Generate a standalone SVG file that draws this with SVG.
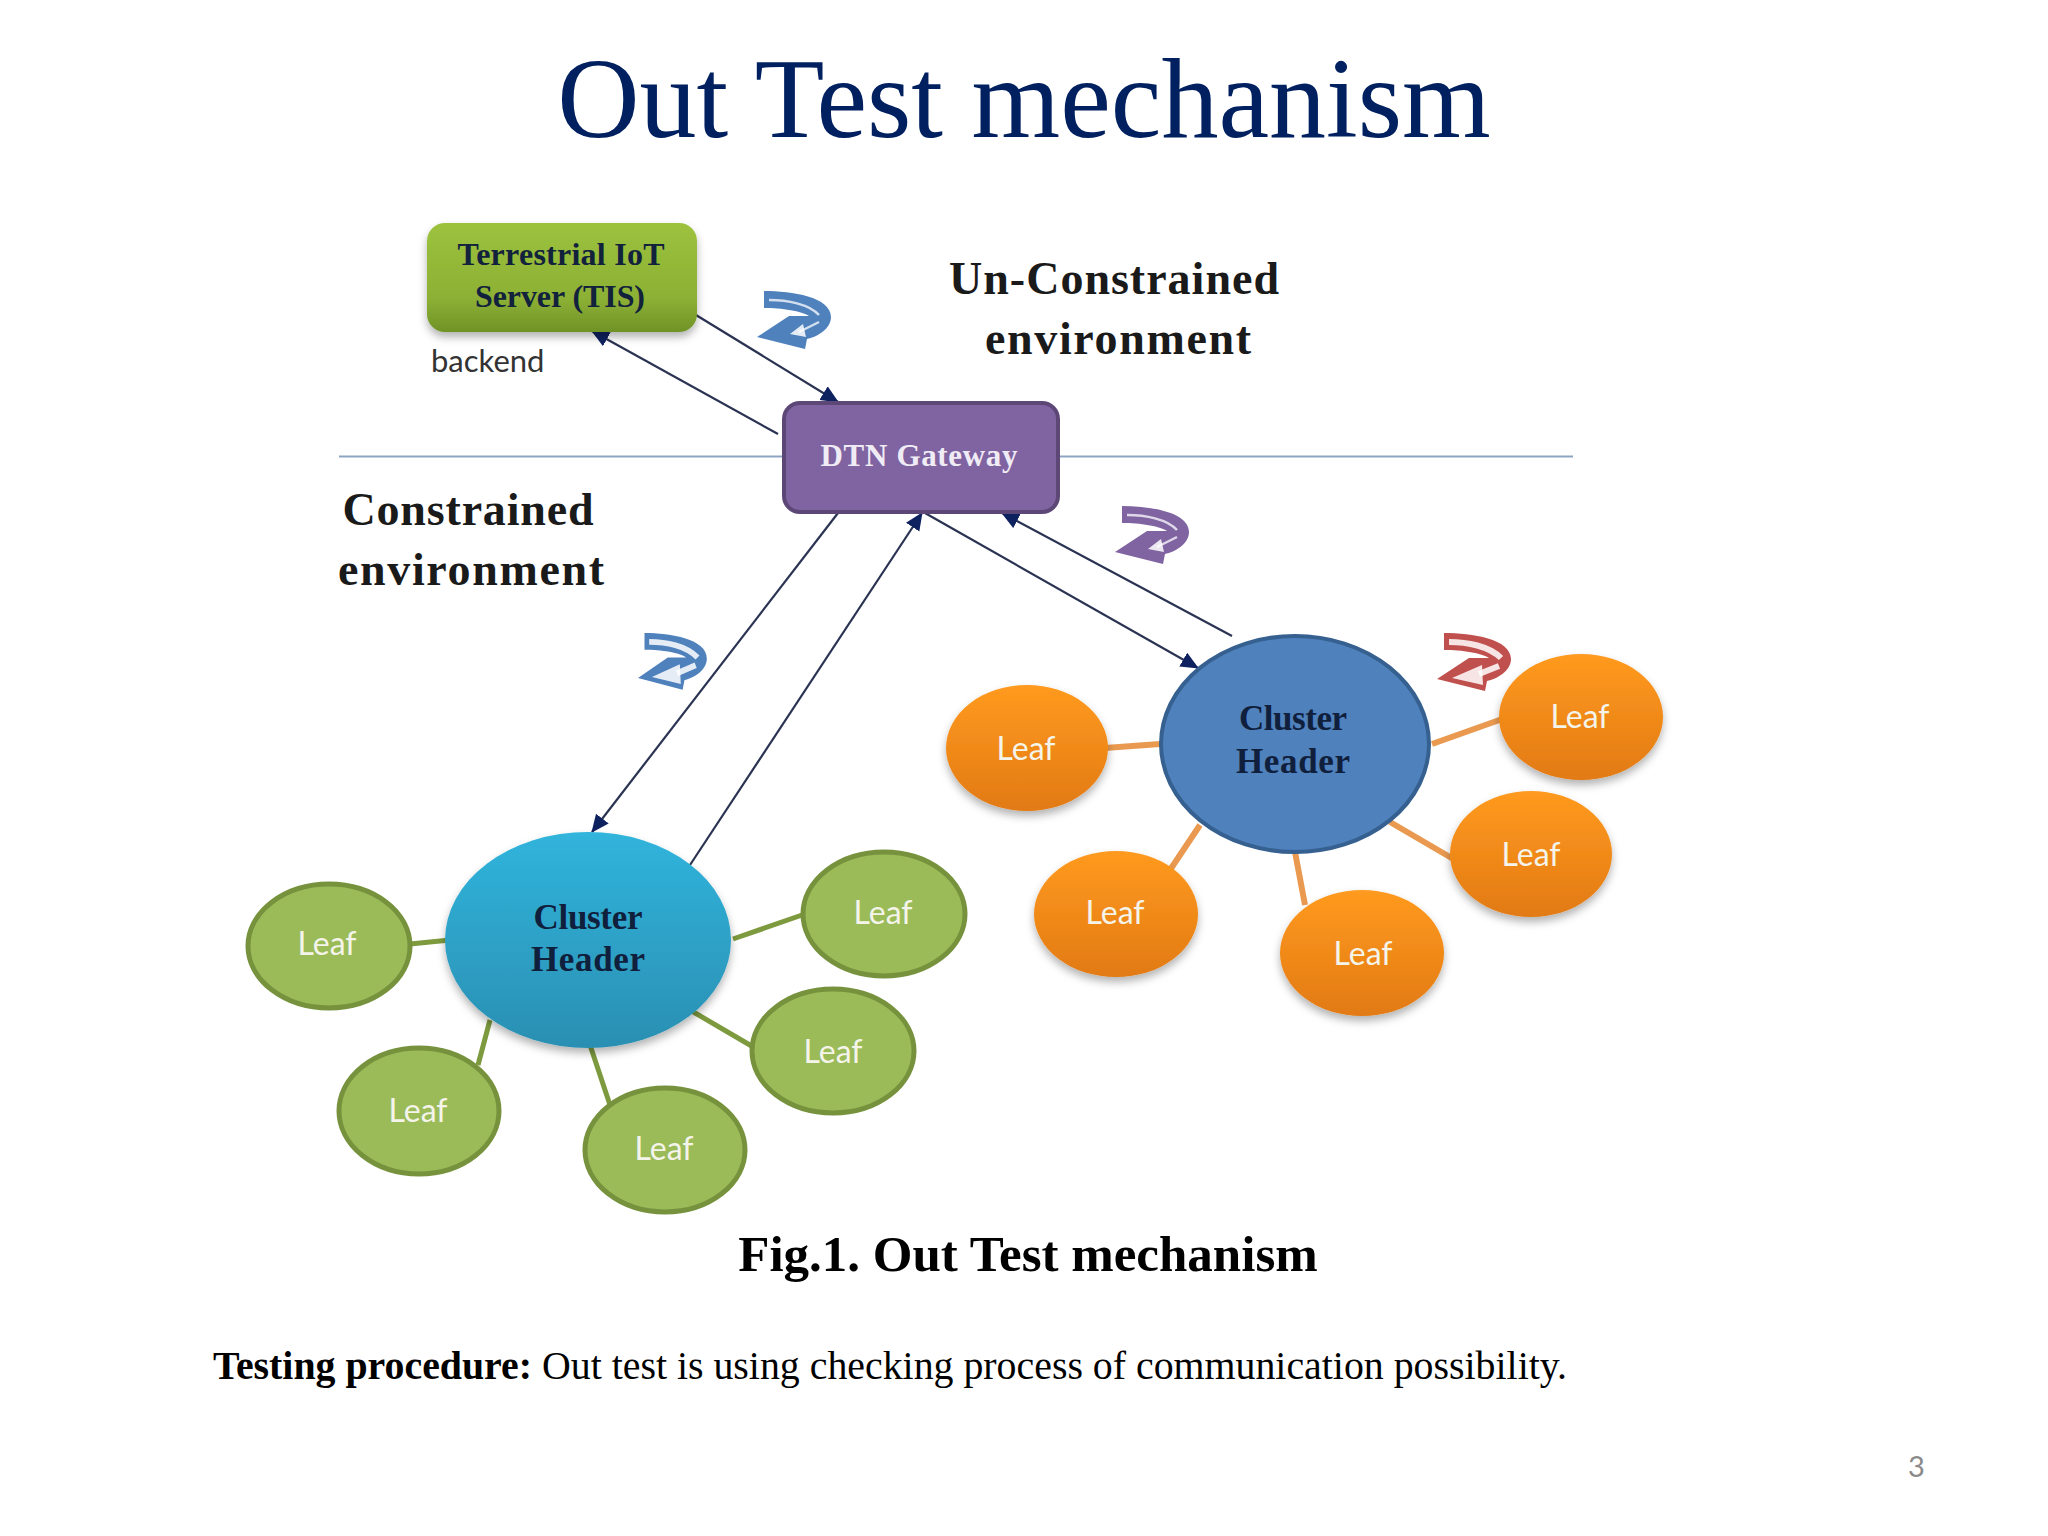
<svg xmlns="http://www.w3.org/2000/svg" width="2048" height="1536" viewBox="0 0 2048 1536">
<style>
.serif{font-family:"Liberation Serif","Times New Roman",serif}
.lb{font-family:"Liberation Serif",serif;font-weight:bold;text-anchor:middle}
.big{font-size:46px;fill:#1a1a1a}
.small{font-size:32px;fill:#12223c}
.ch{font-size:35px;fill:#10203c}
.leaf{font-family:Lato,"Open Sans",sans-serif;font-size:32px;fill:#f4f4ea;text-anchor:middle}
.g{fill:#9bbb59;stroke:#76923c;stroke-width:5}
.o{fill:url(#orange);filter:url(#sh)}
.ge{stroke:#7d9a3e;stroke-width:5;fill:none}
.oe{stroke:#ea9a50;stroke-width:6;fill:none}
.a{stroke:#2a3352;stroke-width:2.2;fill:none;marker-end:url(#arr)}
.hl{fill:none;stroke:#fff;stroke-opacity:.75;stroke-width:2.5}
.hw{fill:none;stroke:#fff;stroke-opacity:.85;stroke-width:6}
.hf{fill:#fff;fill-opacity:.85}
</style>
<defs>
<linearGradient id="orange" x1="0" y1="0" x2="0" y2="1"><stop offset="0" stop-color="#ff9a20"/><stop offset="1" stop-color="#e27a12"/></linearGradient>
<linearGradient id="green" x1="0" y1="0" x2="0" y2="1"><stop offset="0" stop-color="#9cc23e"/><stop offset=".7" stop-color="#8cb034"/><stop offset="1" stop-color="#6f9227"/></linearGradient>
<linearGradient id="teal" x1="0" y1="0" x2="0" y2="1"><stop offset="0" stop-color="#30b4dc"/><stop offset="1" stop-color="#2b8fb2"/></linearGradient>
<filter id="sh" x="-20%" y="-20%" width="140%" height="140%"><feDropShadow dx="0" dy="5" stdDeviation="4" flood-color="#000" flood-opacity=".3"/></filter>
<marker id="arr" markerUnits="userSpaceOnUse" markerWidth="20" markerHeight="18" refX="17" refY="8" orient="auto"><path d="M0 0L18 8L0 16Z" fill="#0e2260"/></marker>
<path id="curve" d="M7 0C35 0 74 6 74 26C74 38 60 46 50 48L48 58L0 46L32 25L52 25C45 20 25 17 7 17Z"/>
<g id="hi"><path class="hl" d="M12 9C30 9 52 13 62 24"/><path class="hl" d="M62 31L42 41"/><path class="hf" d="M46 33L33 43L49 46Z"/></g>
<g id="hi2"><path class="hw" d="M12 9C30 9 52 13 64 25"/><path class="hw" d="M62 33L42 41"/><path class="hf" d="M45 32L15 45L46 52Z"/></g>
</defs>
<rect width="2048" height="1536" fill="#fff"/>
<text class="serif" x="1024" y="137" font-size="114" fill="#002060" text-anchor="middle">Out Test mechanism</text>

<path d="M339 456.500H1573" stroke="#8da5c2" stroke-width="2" fill="none"/>

<g id="connectors">
<path class="a" d="M696 315L838 402"/>
<path class="a" d="M778 434L592 331"/>
<path class="a" d="M838 513L592 832"/>
<path class="a" d="M690 865L922 513"/>
<path class="a" d="M925 513L1198 668"/>
<path class="a" d="M1232 636L1002 513"/>
<path class="ge" d="M410 944L450 940M478 1065L490 1020M610 1105L590 1045M755 1048L690 1010M805 914L733 939"/>
<path class="oe" d="M1105 748L1160 744M1432 744L1505 718M1390 822L1455 860M1295 852L1305 905M1170 870L1200 825"/>
</g>

<g id="arrow-blue-top" transform="translate(757 291)"><use href="#curve" fill="#4f81bd"/><use href="#hi"/></g>
<g id="arrow-purple" transform="translate(1115 506)"><use href="#curve" fill="#8064a2"/><use href="#hi"/></g>
<g id="arrow-red" transform="translate(1437 633)"><use href="#curve" fill="#c0504d"/><use href="#hi2"/></g>
<g id="arrow-blue-left" transform="translate(638 633) scale(.93 .98)"><use href="#curve" fill="#4f81bd"/><use href="#hi2"/></g>

<g id="tis"><rect x="427" y="223" width="270" height="109" rx="18" fill="url(#green)" filter="url(#sh)"/>
<text class="lb small" x="561" y="265" fill="#11280c" textLength="207">Terrestrial IoT</text><text class="lb small" x="560" y="307" textLength="170">Server (TIS)</text></g>
<text font-family="Lato,sans-serif" font-size="31" fill="#333" x="431" y="372">backend</text>

<g id="dtn"><rect x="784" y="403" width="274" height="109" rx="16" fill="#8064a2" stroke="#5c4777" stroke-width="4"/>
<text class="lb" font-size="31" x="919" y="466" fill="#f0ecf5" textLength="197">DTN Gateway</text></g>

<text class="lb big" x="1114" y="294" textLength="330">Un-Constrained</text>
<text class="lb big" x="1118" y="354" textLength="266">environment</text>
<text class="lb big" x="468" y="525" textLength="251">Constrained</text>
<text class="lb big" x="471" y="585" textLength="266">environment</text>

<g id="cluster-left"><ellipse cx="588" cy="940" rx="143" ry="108" fill="url(#teal)" filter="url(#sh)"/>
<text class="lb ch" x="588" y="929" textLength="109">Cluster</text><text class="lb ch" x="588" y="971" textLength="114">Header</text></g>
<g id="cluster-right"><ellipse cx="1295" cy="744" rx="134" ry="108" fill="#4f81bd" stroke="#35608f" stroke-width="4"/>
<text class="lb ch" x="1293" y="730" textLength="108">Cluster</text><text class="lb ch" x="1293" y="773" textLength="114">Header</text></g>

<g id="leaf-g1"><ellipse class="g" cx="329" cy="946" rx="81" ry="62"/><text class="leaf" x="327" y="955">Leaf</text></g>
<g id="leaf-g2"><ellipse class="g" cx="419" cy="1111" rx="80" ry="63"/><text class="leaf" x="418" y="1122">Leaf</text></g>
<g id="leaf-g3"><ellipse class="g" cx="665" cy="1150" rx="80" ry="62"/><text class="leaf" x="664" y="1160">Leaf</text></g>
<g id="leaf-g4"><ellipse class="g" cx="833" cy="1051" rx="81" ry="62"/><text class="leaf" x="833" y="1063">Leaf</text></g>
<g id="leaf-g5"><ellipse class="g" cx="884" cy="914" rx="81" ry="62"/><text class="leaf" x="883" y="924">Leaf</text></g>

<g id="leaf-o1"><ellipse class="o" cx="1027" cy="748" rx="81" ry="63"/><text class="leaf" x="1026" y="760">Leaf</text></g>
<g id="leaf-o2"><ellipse class="o" cx="1581" cy="717" rx="82" ry="63"/><text class="leaf" x="1580" y="728">Leaf</text></g>
<g id="leaf-o3"><ellipse class="o" cx="1531" cy="854" rx="81" ry="63"/><text class="leaf" x="1531" y="866">Leaf</text></g>
<g id="leaf-o4"><ellipse class="o" cx="1362" cy="953" rx="82" ry="63"/><text class="leaf" x="1363" y="965">Leaf</text></g>
<g id="leaf-o5"><ellipse class="o" cx="1116" cy="914" rx="82" ry="63"/><text class="leaf" x="1115" y="924">Leaf</text></g>

<text class="serif" x="1028" y="1271" font-size="51" font-weight="bold" fill="#000" text-anchor="middle">Fig.1. Out Test mechanism</text>
<text class="serif" x="213" y="1379" font-size="39.850" fill="#000"><tspan font-weight="bold">Testing procedure:</tspan> Out test is using checking process of communication possibility.</text>
<text font-family="Lato,sans-serif" font-size="29" fill="#8a8a8a" x="1908" y="1477">3</text>
</svg>
